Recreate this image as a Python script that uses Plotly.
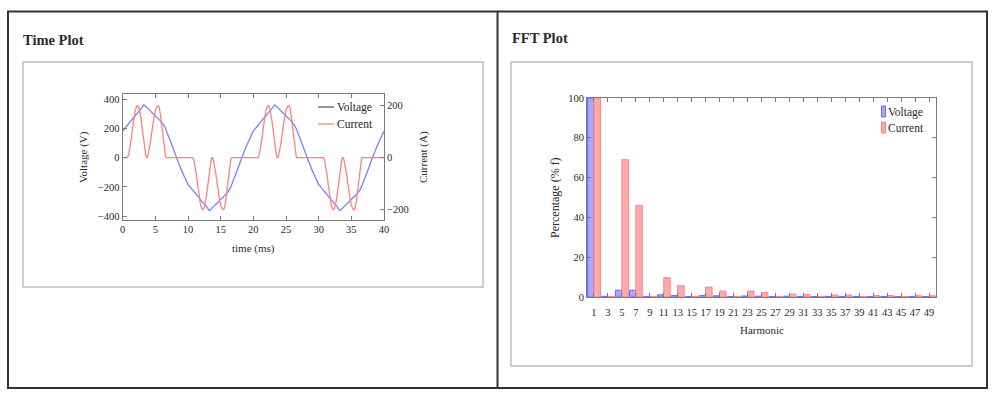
import plotly.graph_objects as go

W, H = 995, 400
def px(x):
    return x / W
def py(y):
    return 1 - y / H

# ---------------- data: time plot ----------------
time_ms_voltage = [
    0, 0.5, 1, 1.5, 2, 2.5, 3, 3.25, 3.5, 4, 4.5, 5, 5.5, 6, 6.5, 7, 7.5, 8, 8.5, 9, 9.5,
    10, 10.5, 11, 11.5, 12, 12.5, 13, 13.25, 13.5, 14, 14.5, 15, 15.5, 16, 16.5, 17, 17.5, 18, 18.5, 19, 19.5,
    20, 20.5, 21, 21.5, 22, 22.5, 23, 23.25, 23.5, 24, 24.5, 25, 25.5, 26, 26.5, 27, 27.5, 28, 28.5, 29, 29.5,
    30, 30.5, 31, 31.5, 32, 32.5, 33, 33.25, 33.5, 34, 34.5, 35, 35.5, 36, 36.5, 37, 37.5, 38, 38.5, 39, 39.5,
    40,
]
voltage_v = [
    182, 210, 238, 265, 292, 318, 345, 362, 352, 330, 308, 286, 264, 240, 205, 148, 90, 30, -30, -85, -135,
    -182, -210, -238, -265, -292, -318, -345, -362, -352, -330, -308, -286, -264, -240, -205, -148, -90, -30, 30, 85, 135,
    182, 210, 238, 265, 292, 318, 345, 362, 352, 330, 308, 286, 264, 240, 205, 148, 90, 30, -30, -85, -135,
    -182, -210, -238, -265, -292, -318, -345, -362, -352, -330, -308, -286, -264, -240, -205, -148, -90, -30, 30, 85, 135,
    182,
]

time_ms_current = [
    0, 0.7, 0.9, 1.1, 1.3, 1.5, 1.7, 1.9, 2.1, 2.25, 2.4, 2.6, 2.8, 3.0, 3.2, 3.4, 3.55, 3.65,
    3.75, 3.85, 4.05, 4.25, 4.45, 4.65, 4.85, 5.05, 5.25, 5.45, 5.6, 5.8, 6.0, 6.2, 6.4, 6.55, 6.65,
    10, 10.7, 10.9, 11.1, 11.3, 11.5, 11.7, 11.9, 12.1, 12.25, 12.4, 12.6, 12.8, 13.0, 13.2, 13.4, 13.55, 13.65,
    13.75, 13.85, 14.05, 14.25, 14.45, 14.65, 14.85, 15.05, 15.25, 15.45, 15.6, 15.8, 16.0, 16.2, 16.4, 16.55, 16.65,
    20, 20.7, 20.9, 21.1, 21.3, 21.5, 21.7, 21.9, 22.1, 22.25, 22.4, 22.6, 22.8, 23.0, 23.2, 23.4, 23.55, 23.65,
    23.75, 23.85, 24.05, 24.25, 24.45, 24.65, 24.85, 25.05, 25.25, 25.45, 25.6, 25.8, 26.0, 26.2, 26.4, 26.55, 26.65,
    30, 30.7, 30.9, 31.1, 31.3, 31.5, 31.7, 31.9, 32.1, 32.25, 32.4, 32.6, 32.8, 33.0, 33.2, 33.4, 33.55, 33.65,
    33.75, 33.85, 34.05, 34.25, 34.45, 34.65, 34.85, 35.05, 35.25, 35.45, 35.6, 35.8, 36.0, 36.2, 36.4, 36.55, 36.65,
    40,
]
current_a = [
    0, 0, 10, 35, 70, 110, 148, 178, 196, 200, 197, 180, 150, 110, 65, 25, 6, 0,
    0, 6, 28, 60, 98, 135, 165, 186, 198, 200, 192, 160, 115, 68, 28, 7, 0,
    0, 0, -10, -35, -70, -110, -148, -178, -196, -200, -197, -180, -150, -110, -65, -25, -6, 0,
    0, -6, -28, -60, -98, -135, -165, -186, -198, -200, -192, -160, -115, -68, -28, -7, 0,
    0, 0, 10, 35, 70, 110, 148, 178, 196, 200, 197, 180, 150, 110, 65, 25, 6, 0,
    0, 6, 28, 60, 98, 135, 165, 186, 198, 200, 192, 160, 115, 68, 28, 7, 0,
    0, 0, -10, -35, -70, -110, -148, -178, -196, -200, -197, -180, -150, -110, -65, -25, -6, 0,
    0, -6, -28, -60, -98, -135, -165, -186, -198, -200, -192, -160, -115, -68, -28, -7, 0,
    0,
]

time_ticks = [0, 5, 10, 15, 20, 25, 30, 35, 40]
voltage_ticks = [-400, -200, 0, 200, 400]
current_ticks = [-200, 0, 200]

# ---------------- data: FFT plot ----------------
harmonics = [1, 3, 5, 7, 9, 11, 13, 15, 17, 19, 21, 23, 25,
             27, 29, 31, 33, 35, 37, 39, 41, 43, 45, 47, 49]
fft_voltage = [100, 0.3, 3.4, 3.4, 0.3, 1.1, 0.8, 0.2, 0.8, 0.6, 0.2, 0.5, 0.4,
               0.2, 0.4, 0.3, 0.2, 0.3, 0.3, 0.2, 0.2, 0.2, 0.2, 0.2, 0.2]
fft_current = [100, 0.3, 69, 46, 0.3, 9.7, 5.7, 0.3, 5.0, 3.0, 0.3, 3.0, 2.2,
               0.3, 1.5, 1.3, 0.3, 1.0, 1.0, 0.2, 0.7, 0.7, 0.2, 0.6, 0.6]
pct_ticks = [0, 20, 40, 60, 80, 100]

SERIF = "Liberation Serif"
TXT = "#2a2a2a"
AX = "#7a7a7a"
V_LINE, I_LINE = "#7f7fff", "#ff8080"
V_FILL, V_EDGE = "#a8a8ff", "#6a6aff"
I_FILL, I_EDGE = "#ffabab", "#ff8080"

fig = go.Figure()

# time plot traces
fig.add_trace(go.Scatter(x=time_ms_voltage, y=voltage_v, mode="lines",
                         line=dict(color=V_LINE, width=1.3, shape="spline", smoothing=0.5),
                         xaxis="x", yaxis="y", showlegend=False, name="Voltage"))
fig.add_trace(go.Scatter(x=time_ms_current, y=current_a, mode="lines",
                         line=dict(color=I_LINE, width=1.3),
                         xaxis="x", yaxis="y2", showlegend=False, name="Current"))

# FFT traces
fig.add_trace(go.Bar(x=harmonics, y=fft_voltage, name="Voltage", showlegend=False,
                     marker=dict(color=V_FILL, line=dict(color=V_EDGE, width=1)),
                     xaxis="x2", yaxis="y3"))
fig.add_trace(go.Bar(x=harmonics, y=fft_current, name="Current", showlegend=False,
                     marker=dict(color=I_FILL, line=dict(color=I_EDGE, width=1)),
                     xaxis="x2", yaxis="y3"))

common_axis = dict(showline=True, linecolor=AX, linewidth=1, ticks="inside",
                   ticklen=4, tickcolor=AX, showgrid=False, zeroline=False,
                   automargin=False, tickfont=dict(family=SERIF, size=10.5, color=TXT))

fig.update_layout(
    width=W, height=H, margin=dict(l=0, r=0, t=0, b=0),
    paper_bgcolor="white", plot_bgcolor="white",
    font=dict(family=SERIF, size=10, color=TXT),
    barmode="group", bargap=0.08, bargroupgap=0,
    xaxis=dict(domain=[px(122.7), px(384)], range=[0, 40], tickvals=time_ticks,
               anchor="y", mirror="ticks", **common_axis),
    yaxis=dict(domain=[py(219.5), py(94)], range=[-423, 436], tickvals=voltage_ticks,
               anchor="x", **common_axis),
    yaxis2=dict(overlaying="y", side="right", range=[-238, 245], tickvals=current_ticks,
                anchor="x", **common_axis),
    xaxis2=dict(domain=[px(587), px(936)], type="category", tickvals=harmonics,
                anchor="y3", mirror="ticks", ticklabelstandoff=5, **common_axis),
    yaxis3=dict(domain=[py(297), py(98)], range=[0, 100], tickvals=pct_ticks,
                anchor="x2", mirror="ticks", **common_axis),
)

shapes = [
    # outer frame and divider
    dict(type="rect", x0=px(8), x1=px(987), y0=py(388), y1=py(11.5),
         line=dict(color="#333333", width=2), layer="below"),
    dict(type="line", x0=px(497.5), x1=px(497.5), y0=py(388), y1=py(11.5),
         line=dict(color="#333333", width=2), layer="below"),
    # inner boxes
    dict(type="rect", x0=px(23), x1=px(483), y0=py(287), y1=py(62),
         line=dict(color="#bdbdbd", width=1.5), layer="below"),
    dict(type="rect", x0=px(511), x1=px(972), y0=py(366), y1=py(62),
         line=dict(color="#bdbdbd", width=1.5), layer="below"),
    # time-plot legend samples
    dict(type="line", x0=px(318), x1=px(334), y0=py(107), y1=py(107),
         line=dict(color="#5a5a70", width=1.3)),
    dict(type="line", x0=px(318), x1=px(334), y0=py(124), y1=py(124),
         line=dict(color=I_LINE, width=1.3)),
    # FFT legend patches
    dict(type="rect", x0=px(881.5), x1=px(885.5), y0=py(117), y1=py(106),
         fillcolor=V_FILL, line=dict(color=V_EDGE, width=1)),
    dict(type="rect", x0=px(881.5), x1=px(885.5), y0=py(133), y1=py(122),
         fillcolor=I_FILL, line=dict(color=I_EDGE, width=1)),
]
for s in shapes:
    s.update(xref="paper", yref="paper")
fig.update_layout(shapes=shapes)

def ann(text, x, y, size=11, angle=0, xanchor="center", bold=False):
    return dict(text=f"<b>{text}</b>" if bold else text, x=px(x), y=py(y),
                xref="paper", yref="paper", showarrow=False, textangle=angle,
                xanchor=xanchor, yanchor="middle",
                font=dict(family=SERIF, size=size, color=TXT))

fig.update_layout(annotations=[
    ann("Time Plot", 21, 40, size=14.5, xanchor="left", bold=True),
    ann("FFT Plot", 510, 38, size=14.5, xanchor="left", bold=True),
    ann("Voltage (V)", 83, 157, angle=-90),
    ann("Current (A)", 423, 157, angle=-90),
    ann("time (ms)", 253, 248),
    ann("Percentage (% f)", 555, 198, angle=-90, size=12),
    ann("Harmonic", 762, 330),
    ann("Voltage", 335, 107, size=11.5, xanchor="left"),
    ann("Current", 335, 124, size=11.5, xanchor="left"),
    ann("Voltage", 886, 112, size=11.5, xanchor="left"),
    ann("Current", 886, 128, size=11.5, xanchor="left"),
])

fig.write_html("out.html")
